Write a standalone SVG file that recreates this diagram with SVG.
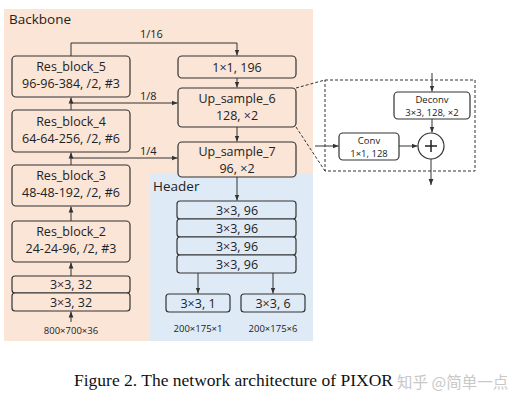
<svg xmlns="http://www.w3.org/2000/svg" width="520" height="410" viewBox="0 0 520 410">
<defs>
<marker id="ah" viewBox="0 0 6 6" refX="6" refY="3" markerWidth="6" markerHeight="6" orient="auto" markerUnits="userSpaceOnUse">
<path d="M0,0.6 L6,3 L0,5.4 z" fill="#333"/>
</marker>
<style>
.bx{stroke:#333;stroke-width:1.2}
.pf{fill:#fbe5d6}
.bf{fill:#deebf7}
.t{font-family:"Open Sans","Noto Sans",sans-serif;font-size:12.5px;fill:#222;text-anchor:middle}
.ts{font-family:"Open Sans","Noto Sans",sans-serif;font-size:9.5px;fill:#222;text-anchor:middle}
.lb{font-family:"Open Sans","Noto Sans",sans-serif;font-size:11px;fill:#222}
.hd{font-family:"Open Sans","Noto Sans",sans-serif;font-size:13.5px;fill:#222}
.c{fill:none;stroke:#333;stroke-width:1}
.d{fill:none;stroke:#333;stroke-width:1;stroke-dasharray:3,2}
</style>
</defs>
<rect x="0" y="0" width="520" height="410" fill="#fff"/>
<rect x="4" y="9" width="309" height="332" fill="#fbe5d6"/>
<rect x="150" y="173" width="163" height="168" fill="#deebf7"/>
<text class="hd" x="9" y="24">Backbone</text>
<text class="hd" x="153" y="191">Header</text>

<g id="connectors">
<path class="c" d="M71,56 V43 H237 V55.5" marker-end="url(#ah)"/>
<path class="c" d="M71,110 V97.5" marker-end="url(#ah)"/>
<path class="c" d="M71,103 H177.5" marker-end="url(#ah)"/>
<path class="c" d="M71,165 V152.5" marker-end="url(#ah)"/>
<path class="c" d="M71,158 H177.5" marker-end="url(#ah)"/>
<path class="c" d="M71,221 V206.5" marker-end="url(#ah)"/>
<path class="c" d="M71,276 V262.5" marker-end="url(#ah)"/>
<path class="c" d="M71,322 V311.5" marker-end="url(#ah)"/>
<path class="c" d="M237,78 V87.5" marker-end="url(#ah)"/>
<path class="c" d="M237,127 V141.5" marker-end="url(#ah)"/>
<path class="c" d="M237,177 V200.5" marker-end="url(#ah)"/>
<path class="c" d="M198,273 V293.5" marker-end="url(#ah)"/>
<path class="c" d="M273,273 V293.5" marker-end="url(#ah)"/>
<text class="lb" x="140" y="38">1/16</text>
<text class="lb" x="140" y="100">1/8</text>
<text class="lb" x="140" y="155">1/4</text>
<path class="d" d="M296,88 L325,80"/>
<path class="d" d="M296,127 L325,171"/>
<rect class="d" x="325" y="80" width="150" height="91"/>
<path class="c" d="M432,73 V91.5" marker-end="url(#ah)"/>
<path class="c" d="M432,119 V132.5" marker-end="url(#ah)"/>
<path class="c" d="M315,146 H338.5" marker-end="url(#ah)"/>
<path class="c" d="M399,146 H417.5" marker-end="url(#ah)"/>
<path class="c" d="M431,159 V185" marker-end="url(#ah)"/>
</g>

<g id="res5"><rect class="bx pf" x="12" y="56" width="118" height="41" rx="4"/><text class="t" x="71" y="71">Res_block_5</text><text class="t" x="71" y="88">96-96-384, /2, #3</text></g>
<g id="res4"><rect class="bx pf" x="12" y="110" width="118" height="42" rx="4"/><text class="t" x="71" y="125.5">Res_block_4</text><text class="t" x="71" y="142.5">64-64-256, /2, #6</text></g>
<g id="res3"><rect class="bx pf" x="12" y="165" width="118" height="41" rx="4"/><text class="t" x="71" y="180">Res_block_3</text><text class="t" x="71" y="197">48-48-192, /2, #6</text></g>
<g id="res2"><rect class="bx pf" x="12" y="221" width="118" height="41" rx="4"/><text class="t" x="71" y="236">Res_block_2</text><text class="t" x="71" y="253">24-24-96, /2, #3</text></g>
<g id="conv1"><rect class="bx pf" x="12" y="276" width="118" height="17" rx="3"/><text class="t" x="71" y="289">3×3, 32</text></g>
<g id="conv2"><rect class="bx pf" x="12" y="293" width="118" height="18" rx="3"/><text class="t" x="71" y="307">3×3, 32</text></g>
<g id="input"><text class="ts" x="71" y="334">800×700×36</text></g>

<g id="c196"><rect class="bx pf" x="178" y="56" width="118" height="22" rx="4"/><text class="t" x="237" y="71.5">1×1, 196</text></g>
<g id="up6"><rect class="bx pf" x="178" y="88" width="118" height="39" rx="4"/><text class="t" x="237" y="103">Up_sample_6</text><text class="t" x="237" y="120">128, ×2</text></g>
<g id="up7"><rect class="bx pf" x="178" y="142" width="118" height="35" rx="4"/><text class="t" x="237" y="156">Up_sample_7</text><text class="t" x="237" y="173">96, ×2</text></g>

<g id="h1"><rect class="bx bf" x="177" y="201" width="119" height="18" rx="3"/><text class="t" x="237" y="214.5">3×3, 96</text></g>
<g id="h2"><rect class="bx bf" x="177" y="219" width="119" height="18" rx="3"/><text class="t" x="237" y="232.5">3×3, 96</text></g>
<g id="h3"><rect class="bx bf" x="177" y="237" width="119" height="18" rx="3"/><text class="t" x="237" y="250.5">3×3, 96</text></g>
<g id="h4"><rect class="bx bf" x="177" y="255" width="119" height="18" rx="3"/><text class="t" x="237" y="268.5">3×3, 96</text></g>
<g id="cls"><rect class="bx bf" x="166" y="294" width="64" height="18" rx="3"/><text class="t" x="198" y="307.5">3×3, 1</text><text class="ts" x="198" y="332">200×175×1</text></g>
<g id="reg"><rect class="bx bf" x="241" y="294" width="64" height="18" rx="3"/><text class="t" x="273" y="307.5">3×3, 6</text><text class="ts" x="273" y="332">200×175×6</text></g>

<g id="deconv"><rect class="bx" fill="#fff" x="394" y="92" width="76" height="27" rx="4"/><text class="ts" x="432" y="102.5">Deconv</text><text class="ts" x="432" y="115.5">3×3, 128, ×2</text></g>
<g id="conv"><rect class="bx" fill="#fff" x="339" y="133" width="60" height="27" rx="4"/><text class="ts" x="369" y="143.5">Conv</text><text class="ts" x="369" y="156.5">1×1, 128</text></g>
<g id="plus"><circle cx="431" cy="146" r="13" fill="#fff" stroke="#333" stroke-width="1.2"/><path d="M425,146 H437 M431,140 V152" stroke="#222" stroke-width="1.5"/></g>

<text x="74" y="386" font-family="'Liberation Serif',serif" font-size="17.5" fill="#111">Figure 2. The network architecture of PIXOR</text>
<text x="397" y="388" font-family="'Noto Sans CJK SC',sans-serif" font-size="15.5" fill="#c8c8c8">知乎 @简单一点</text>
</svg>
